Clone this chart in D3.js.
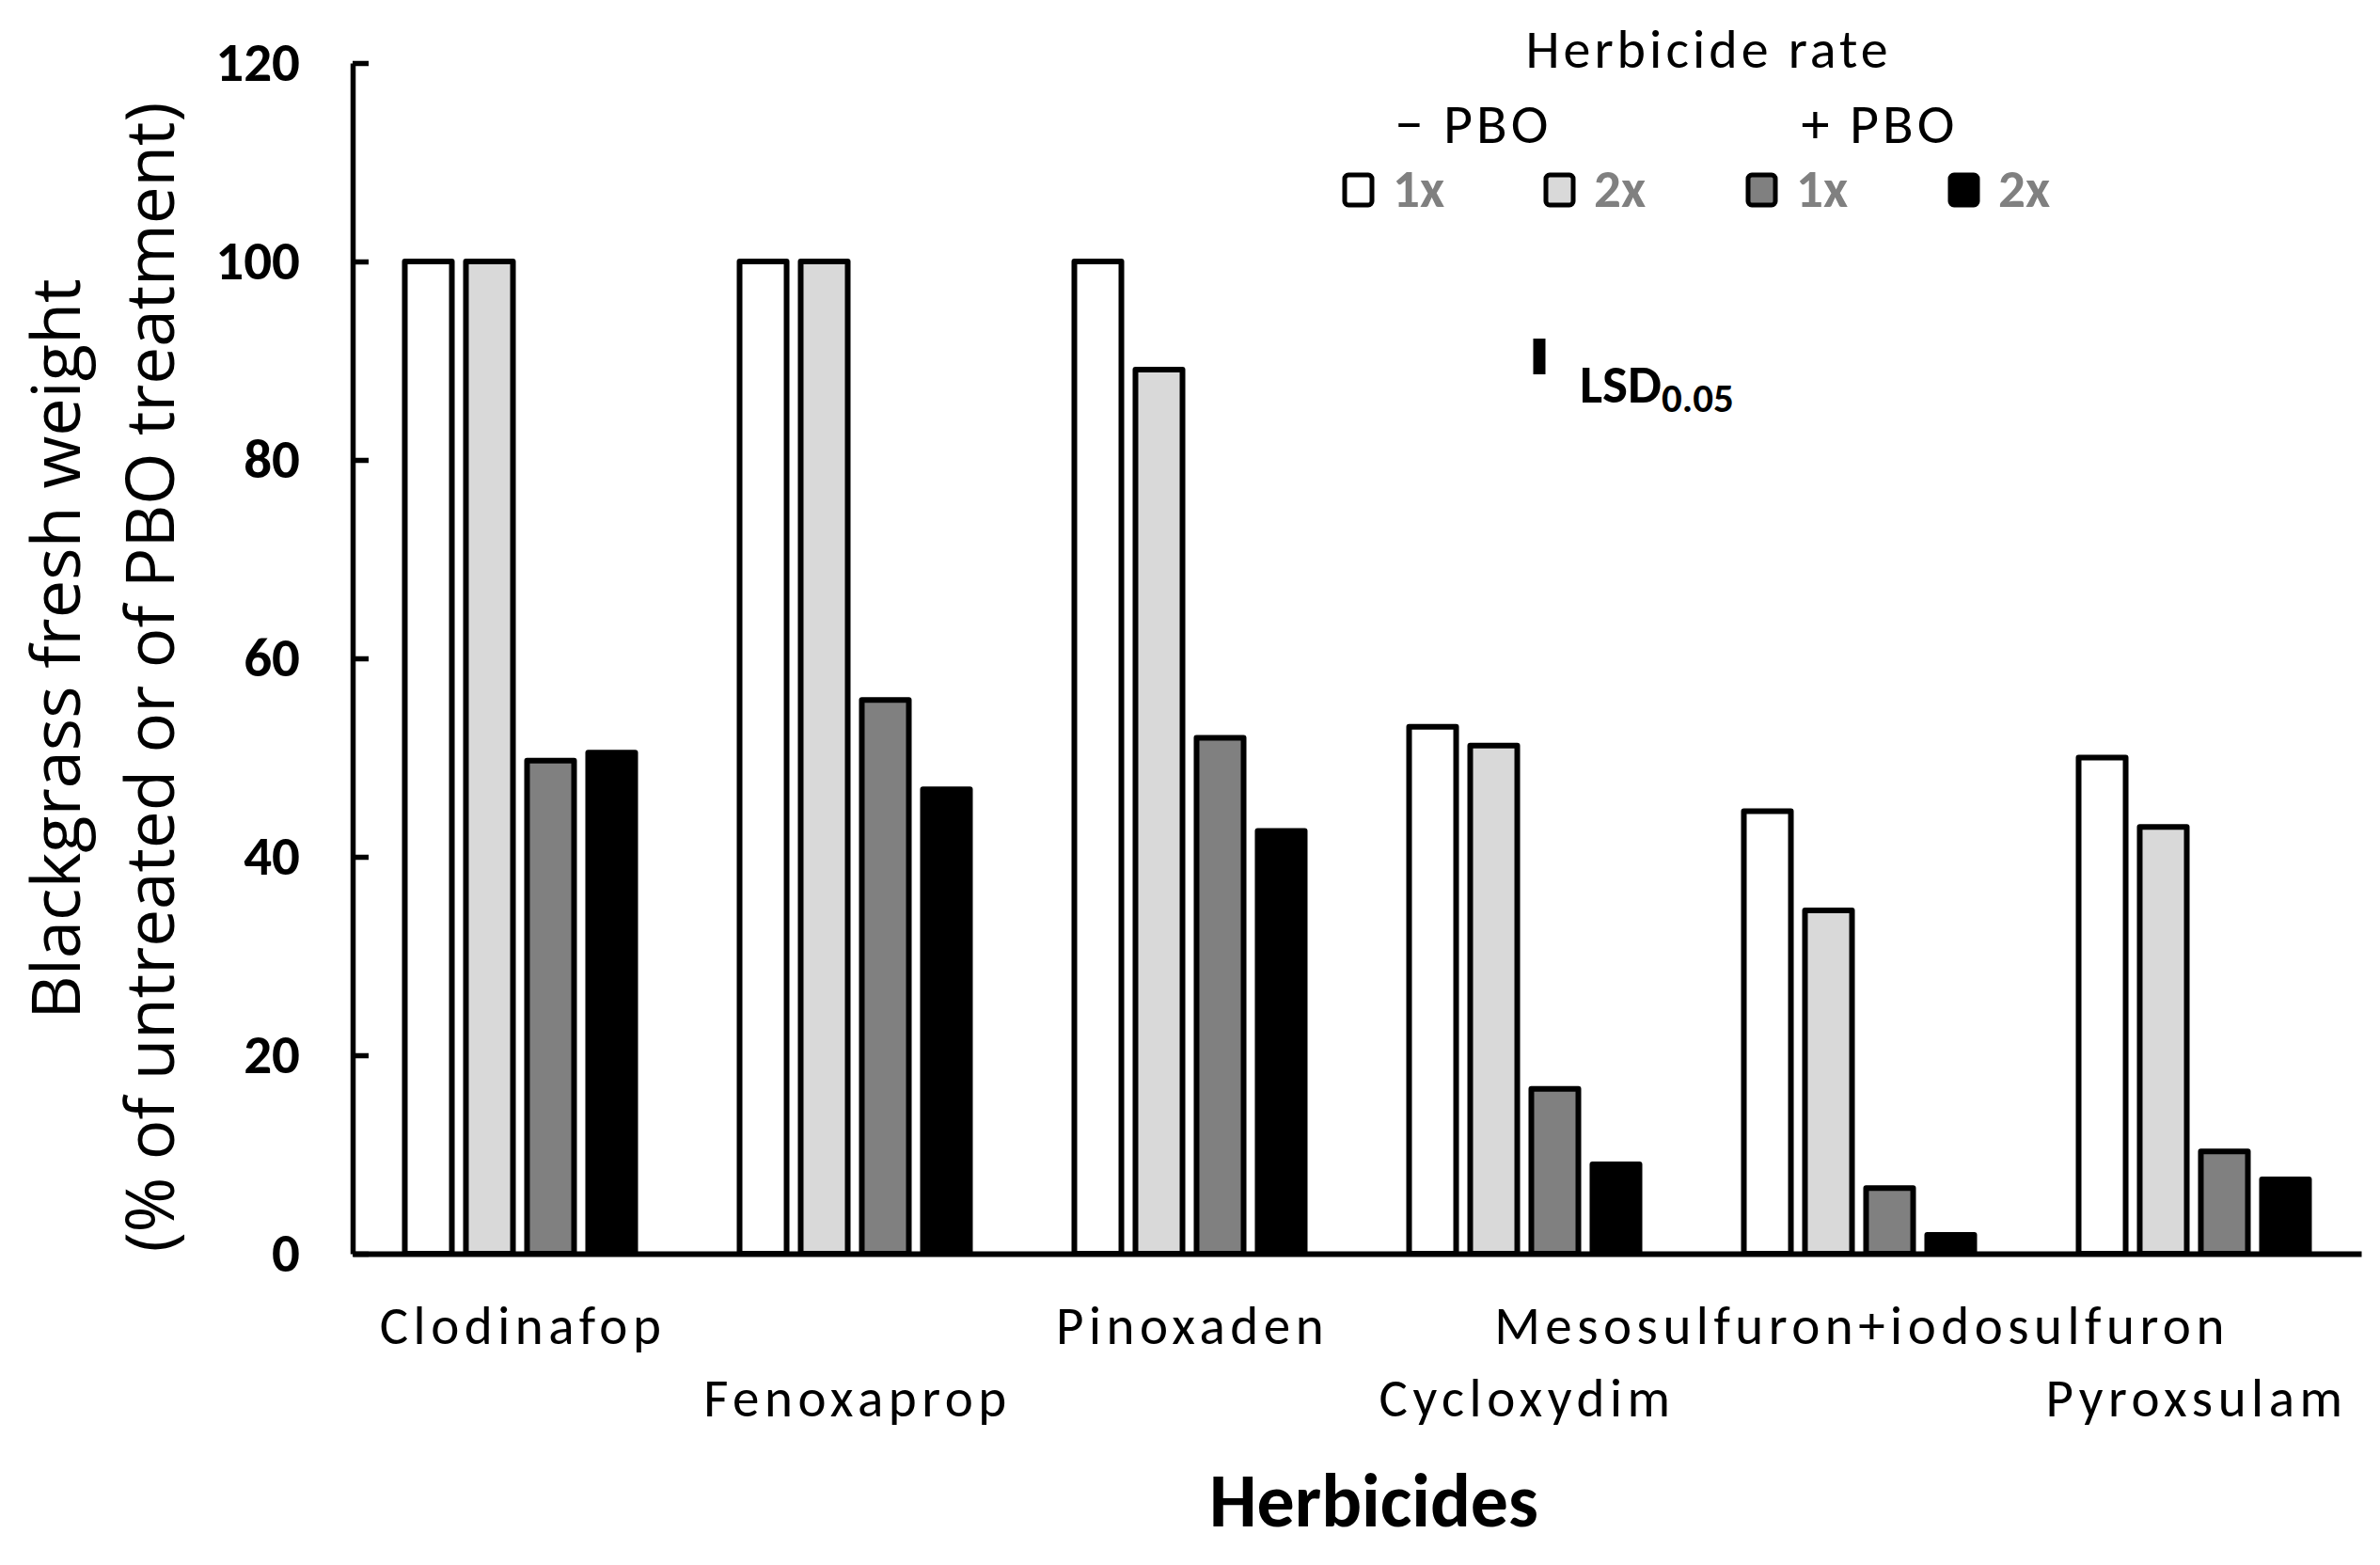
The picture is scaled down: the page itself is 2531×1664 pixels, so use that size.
<!DOCTYPE html>
<html>
<head>
<meta charset="utf-8">
<script src="https://cdn.jsdelivr.net/npm/d3@7"></script>
<style>
  body { margin: 0; background: #fff; }
  text { fill: #000; }
</style>
</head>
<body>
<div id="chart"></div>
<script>
// data
const herbicides = ['Clodinafop', 'Fenoxaprop', 'Pinoxaden', 'Cycloxydim', 'Mesosulfuron+iodosulfuron', 'Pyroxsulam'];
const seriesNames = ['noPbo1x', 'noPbo2x', 'pbo1x', 'pbo2x'];
const seriesLabels = ['1x', '2x', '1x', '2x'];
const noPbo1x = [100, 100, 100, 53.1, 44.6, 50.0];
const noPbo2x = [100, 100, 89.1, 51.2, 34.6, 43.0];
const pbo1x = [49.7, 55.8, 52.0, 16.6, 6.6, 10.3];
const pbo2x = [50.5, 46.8, 42.6, 9.0, 1.9, 7.5];
const yTicks = [0, 20, 40, 60, 80, 100, 120];
const lsd = 3.6;

const seriesValues = [noPbo1x, noPbo2x, pbo1x, pbo2x];
const fills = ['#ffffff', '#d9d9d9', '#808080', '#000000'];

//set variables
const W = 2531, H = 1664;
const plotL = 375, plotR = 2511, plotB = 1333, plotT = 67;
const calibri = "Carlito, Lato, 'Open Sans', sans-serif";
const segoe = "'Open Sans', 'Noto Sans', sans-serif";

const svg = d3.select('#chart').append('svg')
    .attr('width', W)
    .attr('height', H);

const x0 = d3.scaleBand().domain(herbicides).range([plotL, plotR]);
const x1 = d3.scaleBand().domain(seriesNames).range([52.5, 303.5]).paddingInner(0.138);
const y = d3.scaleLinear().domain([0, 120]).range([plotB, plotT]);

//bars
const rows = herbicides.map((h, i) => ({
    name: h,
    vals: seriesNames.map((s, j) => ({key: s, idx: j, v: seriesValues[j][i]}))
}));

const sw = 6;
svg.append('g').selectAll('g')
    .data(rows)
    .join('g')
    .attr('transform', d => `translate(${x0(d.name)},0)`)
    .selectAll('rect')
    .data(d => d.vals)
    .join('rect')
    .attr('x', d => x1(d.key) + sw / 2)
    .attr('width', x1.bandwidth() - sw)
    .attr('y', d => y(d.v))
    .attr('height', d => y(0) - y(d.v))
    .style('fill', d => fills[d.idx])
    .style('stroke', '#000')
    .style('stroke-width', sw)
    .style('stroke-linejoin', 'round');

//y axis
const yAxis = d3.axisLeft(y).tickValues(yTicks).tickSizeInner(-17).tickSizeOuter(0).tickPadding(56);
const gy = svg.append('g')
    .attr('transform', `translate(${plotL},0)`)
    .call(yAxis);
gy.select('.domain').style('stroke', '#000').style('stroke-width', 5.5);
gy.selectAll('.tick line').style('stroke', '#000').style('stroke-width', 5.5);
gy.selectAll('.tick text')
    .style('font-family', calibri)
    .style('font-weight', 'bold')
    .style('font-size', '59px');

//x axis
const xAxis = d3.axisBottom(x0).tickSize(0).tickSizeOuter(0).tickPadding(0);
const gx = svg.append('g')
    .attr('transform', `translate(0,${plotB})`)
    .call(xAxis);
gx.select('.domain').style('stroke', '#000').style('stroke-width', 5.8);
gx.selectAll('.tick text')
    .attr('dy', null)
    .attr('y', (d, i) => i % 2 === 0 ? 96 : 173)
    .attr('dx', 3)
    .style('font-family', calibri)
    .style('font-size', '57px')
    .style('letter-spacing', '5.5px');

//axis titles
svg.append('text')
    .attr('transform', 'rotate(-90)')
    .attr('x', -690)
    .attr('y', 85)
    .attr('text-anchor', 'middle')
    .style('font-family', segoe)
    .style('font-size', '72px')
    .text('Blackgrass fresh weight');

svg.append('text')
    .attr('transform', 'rotate(-90)')
    .attr('x', -720)
    .attr('y', 185)
    .attr('text-anchor', 'middle')
    .style('font-family', segoe)
    .style('font-size', '71px')
    .text('(% of untreated or of PBO treatment)');

svg.append('text')
    .attr('x', 1461)
    .attr('y', 1623)
    .attr('text-anchor', 'middle')
    .style('font-family', calibri)
    .style('font-weight', 'bold')
    .style('font-size', '80px')
    .text('Herbicides');

//legend
svg.append('text')
    .attr('x', 1817).attr('y', 72)
    .attr('text-anchor', 'middle')
    .style('font-family', calibri)
    .style('font-size', '58px')
    .style('letter-spacing', '4px')
    .text('Herbicide rate');
svg.append('text')
    .attr('x', 1567).attr('y', 152)
    .attr('text-anchor', 'middle')
    .style('font-family', calibri)
    .style('font-size', '60px')
    .style('letter-spacing', '4px')
    .text('\u2212 PBO');
svg.append('text')
    .attr('x', 1999).attr('y', 152)
    .attr('text-anchor', 'middle')
    .style('font-family', calibri)
    .style('font-size', '60px')
    .style('letter-spacing', '4px')
    .text('+ PBO');

const legX = [1428, 1642, 1857, 2072];
const leg = svg.append('g').selectAll('g')
    .data(seriesNames)
    .join('g')
    .attr('transform', (d, i) => `translate(${legX[i]},184)`);
leg.append('rect')
    .attr('x', 2).attr('y', 2)
    .attr('width', 29).attr('height', 32)
    .attr('rx', 4)
    .style('fill', (d, i) => fills[i])
    .style('stroke', '#000')
    .style('stroke-width', 5);
leg.append('text')
    .attr('x', 53).attr('y', 36)
    .style('font-family', calibri)
    .style('font-weight', 'bold')
    .style('font-size', '57px')
    .style('fill', '#808080')
    .text((d, i) => seriesLabels[i]);

//LSD bar
const lsdTop = 360;
svg.append('line')
    .attr('x1', 1637).attr('x2', 1637)
    .attr('y1', lsdTop)
    .attr('y2', lsdTop + (y(0) - y(lsd)))
    .style('stroke', '#000')
    .style('stroke-width', 13);
const lsdText = svg.append('text')
    .attr('x', 1680).attr('y', 428)
    .style('font-family', calibri)
    .style('font-weight', 'bold')
    .style('font-size', '57px');
lsdText.append('tspan').text('LSD');
lsdText.append('tspan')
    .attr('dy', 10)
    .style('font-size', '43px')
    .text('0.05');
</script>
</body>
</html>
